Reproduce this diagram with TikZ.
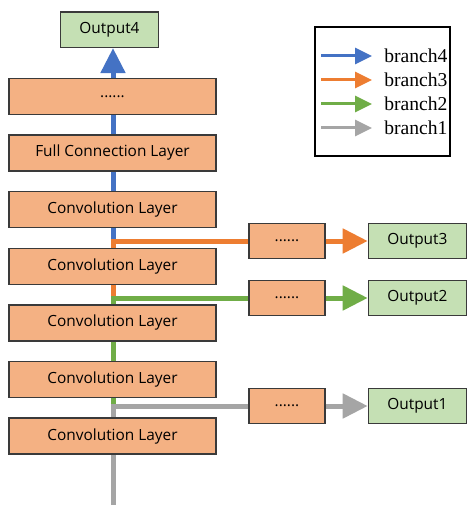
\documentclass[tikz,border=0pt]{standalone}
\usepackage{fontspec}
\setmainfont{Open Sans}
\newfontfamily\legendfont{Liberation Serif}
\usetikzlibrary{arrows.meta,positioning,backgrounds}

\definecolor{layerfill}{HTML}{F4B183}
\definecolor{outfill}{HTML}{C5E0B4}
\definecolor{boxline}{HTML}{3A3A3A}
\definecolor{bfour}{HTML}{4472C4}
\definecolor{bthree}{HTML}{ED7D31}
\definecolor{btwo}{HTML}{70AD47}
\definecolor{bone}{HTML}{A5A5A5}

\begin{document}
\begin{tikzpicture}[x=0.5pt, y=-0.5pt, node distance=9.6pt,
  every node/.style={align=center, font=\fontsize{7.7}{9}\selectfont},
  layer/.style={draw=boxline, line width=0.7pt, fill=layerfill, minimum width=103.5pt, minimum height=18pt},
  minor/.style={draw=boxline, line width=0.7pt, fill=layerfill, minimum width=38pt, minimum height=17.75pt},
  result/.style={draw=boxline, line width=0.7pt, fill=outfill, minimum width=49pt, minimum height=17.75pt},
  branch/.style={line width=2.5pt, -{Triangle[length=12.5pt, width=12pt]}},
  keyarrow/.style={line width=1.5pt, -{Triangle[length=8.5pt, width=8pt]}},
  keylabel/.style={anchor=west, inner sep=0pt, font=\legendfont\fontsize{9.8}{11}\selectfont}]
  \useasboundingbox (0,0) rectangle (474,513);

  % main column
  \node[layer] (c5) at (112.5,436) {Convolution Layer};
  \node[layer, above=of c5] (c4) {Convolution Layer};
  \node[layer, above=of c4] (c3) {Convolution Layer};
  \node[layer, above=of c3] (c2) {Convolution Layer};
  \node[layer, above=of c2] (c1) {Convolution Layer};
  \node[layer, above=of c1] (fc) {Full Connection Layer};
  \node[layer, above=of fc] (dots) {......};
  \node[result, above=14.8pt of dots, xshift=-1.5pt] (o4) {Output4};

  % junctions on the spine
  \coordinate (in) at (113,505);
  \coordinate (j1) at (113,406);
  \coordinate (j2) at (113,298);
  \coordinate (j3) at (113,241);

  % side branches
  \node[minor] (d3) at (287,241) {......};
  \node[result, right=21pt of d3] (o3) {Output3};
  \node[minor] (d2) at (287,298) {......};
  \node[result, right=21pt of d2] (o2) {Output2};
  \node[minor] (d1) at (287,406) {......};
  \node[result, right=21pt of d1] (o1) {Output1};

  \begin{scope}[on background layer]
    \draw[branch, bfour] (j3) -- (j3 |- o4.south);
    \draw[line width=2.5pt, bthree] (j2) |- (d3);
    \draw[line width=2.5pt, btwo] (j1) |- (d2);
    \draw[line width=2.5pt, bone] (in) |- (d1);
  \end{scope}
  \draw[branch, bthree] (d3) -- (o3);
  \draw[branch, btwo] (d2) -- (o2);
  \draw[branch, bone] (d1) -- (o1);

  % legend
  \node[draw, line width=1pt, minimum width=67.5pt, minimum height=64.5pt] (legend) at (382.5,91.5) {};
  \node[keylabel] (k4) at (384,56) {branch4};
  \node[keylabel] (k3) at (384,80) {branch3};
  \node[keylabel] (k2) at (384,104) {branch2};
  \node[keylabel] (k1) at (384,128) {branch1};
  \draw[keyarrow, bfour] ([xshift=-31.5pt]k4.west) -- ([xshift=-6pt]k4.west);
  \draw[keyarrow, bthree] ([xshift=-31.5pt]k3.west) -- ([xshift=-6pt]k3.west);
  \draw[keyarrow, btwo] ([xshift=-31.5pt]k2.west) -- ([xshift=-6pt]k2.west);
  \draw[keyarrow, bone] ([xshift=-31.5pt]k1.west) -- ([xshift=-6pt]k1.west);
\end{tikzpicture}
\end{document}
